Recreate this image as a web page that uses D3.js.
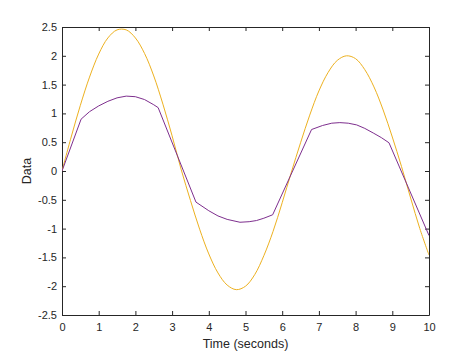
<!DOCTYPE html>
<html>
<head>
<meta charset="utf-8">
<script src="https://cdn.jsdelivr.net/npm/d3@7"></script>
<style>
  html, body { margin: 0; padding: 0; background: #fff; }
  svg { display: block; }
  text { font-family: "Liberation Sans", Arial, Helvetica, sans-serif; fill: #262626; }
</style>
</head>
<body>
<svg id="chart" width="474" height="355"></svg>
<script>
// ---- data ----
const yellowT = [0, 0.25, 0.5, 0.75, 1.0, 1.25, 1.5, 1.75, 2.0, 2.25, 2.5, 2.75, 3.0, 3.25,
                 3.5, 3.75, 4.0, 4.25, 4.5, 4.75, 5.0, 5.25, 5.5, 5.75, 6.0, 6.25,
                 6.5, 6.75, 7.0, 7.25, 7.5, 7.75, 8.0, 8.25, 8.5, 8.75, 9.0, 9.25,
                 9.5, 9.75, 10.0];
const yellowV = [0, 0.59, 1.14, 1.63, 2.03, 2.31, 2.45, 2.45, 2.31, 2.04, 1.65, 1.16, 0.61, 0.02,
                 -0.51, -1.01, -1.44, -1.77, -1.98, -2.06, -2.00, -1.80, -1.47, -1.05, -0.55, -0.02,
                 0.49, 0.97, 1.39, 1.71, 1.92, 2.00, 1.95, 1.76, 1.46, 1.06, 0.59, 0.08,
                 -0.47, -1.00, -1.46];
const purpleT = [0, 0.52, 0.75, 1.0, 1.25, 1.5, 1.75, 2.0, 2.25, 2.5, 2.62,
                 3.65, 4.0, 4.25, 4.5, 4.85, 5.1, 5.3, 5.5, 5.74,
                 6.80, 7.1, 7.35, 7.57, 7.8, 8.03, 8.25, 8.48, 8.7, 8.91,
                 10.0];
const purpleV = [0, 0.90, 1.03, 1.13, 1.21, 1.27, 1.30, 1.29, 1.24, 1.15, 1.10,
                 -0.54, -0.69, -0.78, -0.84, -0.89, -0.88, -0.86, -0.82, -0.76,
                 0.72, 0.79, 0.83, 0.84, 0.83, 0.80, 0.74, 0.66, 0.58, 0.49,
                 -1.12];
const xTicks = [0, 1, 2, 3, 4, 5, 6, 7, 8, 9, 10];
const xTickLabels = ["0", "1", "2", "3", "4", "5", "6", "7", "8", "9", "10"];
const yTicks = [-2.5, -2, -1.5, -1, -0.5, 0, 0.5, 1, 1.5, 2, 2.5];
const yTickLabels = ["-2.5", "-2", "-1.5", "-1", "-0.5", "0", "0.5", "1", "1.5", "2", "2.5"];
const xLabel = "Time (seconds)";
const yLabel = "Data";

// ---- layout ----
const svg = d3.select("#chart");
const L = 62, R = 429, T = 27, B = 315;
const axisColor = "#262626";

const x = d3.scaleLinear().domain([0, 10]).range([L, R]);
const y = d3.scaleLinear().domain([-2.5, 2.5]).range([B, T]);

function styleAxis(g) {
  g.selectAll("path.domain").attr("stroke", axisColor).attr("stroke-width", 1);
  g.selectAll(".tick line").attr("stroke", axisColor).attr("stroke-width", 1);
  g.selectAll(".tick text").attr("fill", axisColor)
    .style("font-size", "11px")
    .style("font-family", "'Liberation Sans', Arial, Helvetica, sans-serif");
}

// bottom axis
svg.append("g").attr("transform", `translate(0,${B})`)
  .call(d3.axisBottom(x).tickValues(xTicks).tickFormat((d, i) => xTickLabels[i])
        .tickSizeInner(-4).tickSizeOuter(0).tickPadding(8))
  .call(styleAxis);
// top axis (ticks only)
svg.append("g").attr("transform", `translate(0,${T})`)
  .call(d3.axisTop(x).tickValues(xTicks).tickFormat("")
        .tickSizeInner(-4).tickSizeOuter(0))
  .call(styleAxis);
// left axis
svg.append("g").attr("transform", `translate(${L},0)`)
  .call(d3.axisLeft(y).tickValues(yTicks).tickFormat((d, i) => yTickLabels[i])
        .tickSizeInner(-4).tickSizeOuter(0).tickPadding(5))
  .call(styleAxis);
// right axis (ticks only)
svg.append("g").attr("transform", `translate(${R},0)`)
  .call(d3.axisRight(y).tickValues(yTicks).tickFormat("")
        .tickSizeInner(-4).tickSizeOuter(0))
  .call(styleAxis);

// clip
svg.append("clipPath").attr("id", "clip")
  .append("rect").attr("x", L).attr("y", T).attr("width", R - L).attr("height", B - T);

const yellowPts = yellowT.map((t, i) => [t, yellowV[i]]);
const purplePts = purpleT.map((t, i) => [t, purpleV[i]]);

svg.append("path").datum(yellowPts)
  .attr("clip-path", "url(#clip)")
  .attr("fill", "none").attr("stroke", "#EDB120").attr("stroke-width", 1)
  .attr("d", d3.line().x(d => x(d[0])).y(d => y(d[1])).curve(d3.curveCatmullRom.alpha(0.5)));

svg.append("path").datum(purplePts)
  .attr("clip-path", "url(#clip)")
  .attr("fill", "none").attr("stroke", "#7E2F8E").attr("stroke-width", 1)
  .attr("d", d3.line().x(d => x(d[0])).y(d => y(d[1])).curve(d3.curveLinear));

// axis labels
svg.append("text")
  .attr("x", (L + R) / 2).attr("y", 348)
  .attr("text-anchor", "middle")
  .style("font-size", "12.5px")
  .text(xLabel);

svg.append("text")
  .attr("transform", `translate(31,${(T + B) / 2}) rotate(-90)`)
  .attr("text-anchor", "middle")
  .style("font-size", "12.5px")
  .text(yLabel);
</script>
</body>
</html>
